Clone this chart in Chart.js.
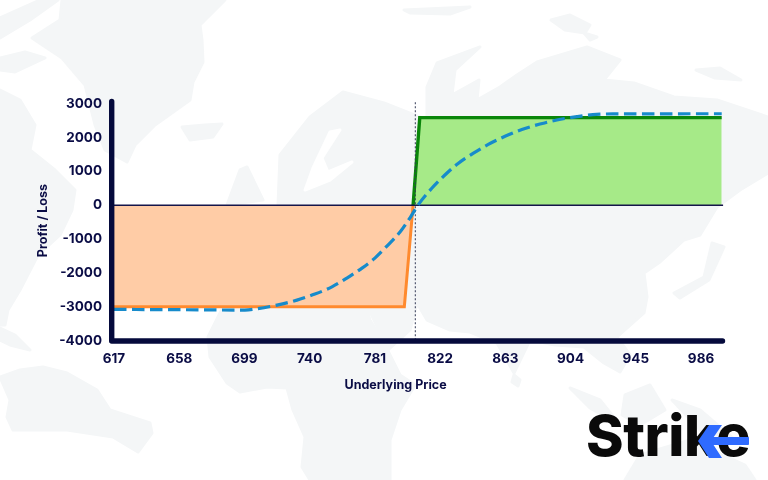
<!DOCTYPE html>
<html><head><meta charset="utf-8">
<style>
html,body{margin:0;padding:0;background:#fff;width:768px;height:480px;overflow:hidden}
#bg{position:absolute;left:0;top:0}
#wrap{position:absolute;left:0;top:0;width:768px;height:480px}
#logo{position:absolute;left:586px;top:401px;font:800 57px/70px Inter,sans-serif;letter-spacing:-0.4px;color:#0a0a0a}
#arrow{position:absolute;left:0;top:0}
</style>
<script src="https://cdn.jsdelivr.net/npm/chart.js@4/dist/chart.umd.min.js"></script>
</head><body>
<svg id="bg" width="768" height="480" fill="#f4f6f7" stroke="#f4f6f7" stroke-width="3" stroke-linejoin="round">
<polygon points="62,0 225,0 200,25 202,40 203,62 193,82 190,100 155,125 135,145 127,162 105,150 95,125 85,85 62,58 32,38 60,20"/>
<polygon points="0,18 40,0 58,0 30,20 0,38"/>
<polygon points="0,58 25,52 45,58 15,72 0,70"/>
<polygon points="0,90 20,100 35,125 30,150 55,170 75,190 72,210 60,235 38,255 20,290 8,310 5,325 0,325"/>
<polygon points="0,328 15,335 30,350 10,345 0,340"/>
<polygon points="20,370 43,367 67,373 97,390 110,410 150,423 152,433 138,452 113,437 67,430 13,430 7,417 10,400 0,377"/>
<polygon points="182,127 205,125 222,124 213,137 190,140"/>
<polygon points="227,205 240,170 247,167 263,200"/>
<polygon points="278,205 280,155 310,117 343,92 384,103 427,120 427,87 437,63 480,47 455,70 452,95 479,80 477,100 500,87 517,75 537,62 587,47 620,60 604,80 634,83 674,97 717,100 768,117 768,173 740,190 717,207 700,235 684,240 660,262 644,273 647,297 644,313 617,337 630,355 620,372 604,363 584,347 555,345 530,340 514,373 497,343 470,332 450,330 427,320 417,303 410,330 388,350 360,290 290,250"/>
<polygon points="220,313 208,337 210,357 227,383 240,392 267,387 287,388 293,410 305,437 302,467 310,480 390,480 390,440 400,410 415,385 400,375 385,345 370,320 350,250 250,260"/>
<polygon points="674,293 704,277 712,243 724,247 709,280 680,298"/>
<polygon points="514,375 520,380 518,386 512,382"/>
<polygon points="570,388 600,400 620,425 590,408"/>
<polygon points="625,395 650,385 665,410 640,425 622,415"/>
<polygon points="672,400 700,410 735,440 700,430"/>
<polygon points="625,480 640,455 690,440 745,465 755,480"/>
<polygon points="551,20 570,15 590,25 585,33 565,30"/>
<polygon points="584,33 597,37 590,40"/>
<polygon points="404,10 470,7 450,14 410,13"/>
<polygon points="696,70 720,68 741,80 715,78"/>
<polygon points="330,132 340,130 322,158 328,172 352,162 330,180 305,190 313,168" fill="#fff" stroke="#fff"/>
</svg>
<div id="wrap"><canvas id="c" width="768" height="480"></canvas></div>
<div id="logo">Strike</div>
<svg id="arrow" width="768" height="480" fill="#2f6bff">
<polygon points="709,425 722,425 711,441 722,458 709,458 698,441"/>
<rect x="708" y="437" width="41" height="8" rx="1"/>
</svg>
<script>
const xTicks=[617,658,699,740,781,822,863,904,945,986];
const yTicks=[-4000,-3000,-2000,-1000,0,1000,2000,3000];
const lossX=[617,799.5,805];
const lossY=[-2990,-2990,0];
const gainX=[805,809.2,999];
const gainY=[0,2585,2585];
const curveX=[617,658.5,699.3,706.9,719.5,732,743.3,754,763.4,772.9,781,789.2,796.8,803,808,816.9,825,833.3,842.7,852,862.8,873.4,884.8,895.4,908,918,930.6,999];
const curveY=[-3068,-3077,-3088,-3050,-2941,-2794,-2617,-2403,-2144,-1850,-1555,-1171,-788,-374,0,510,894,1235,1530,1790,2035,2235,2398,2516,2616,2675,2696,2700];
const zeroX=[617,1000];
const zeroY=[0,0];
const strikeX=[806.4,806.4];
const strikeY=[3040,-4000];
const xTitleText='Underlying Price';
const NAVY='#0a0c45';
const pts=(a,b)=>a.map((v,i)=>({x:v,y:b[i]}));
const spines={id:'spines',afterDatasetsDraw(ch){
  const c=ch.ctx,a=ch.chartArea,sx=a.left-2.3;
  c.save();c.strokeStyle='#050a3c';c.lineWidth=5.4;c.lineCap='round';c.lineJoin='round';
  c.beginPath();c.moveTo(sx,a.top+1.2);c.lineTo(sx,a.bottom);c.lineTo(a.right-0.8,a.bottom);c.stroke();
  c.fillStyle=NAVY;c.font='700 12.5px Inter';c.textAlign='center';c.textBaseline='middle';
  c.fillText(xTitleText,ch.scales.x.getPixelForValue(794),a.bottom+44);
  c.restore();
}};
new Chart(document.getElementById('c'),{
  type:'line',
  data:{datasets:[
    {label:'Loss',data:pts(lossX,lossY),borderColor:'#ff8a2e',borderWidth:3,backgroundColor:'#ffcca6',fill:'origin',pointRadius:0,tension:0,order:4},
    {label:'Gain',data:pts(gainX,gainY),borderColor:'#0a860a',borderWidth:3.4,backgroundColor:'#a6ea88',fill:'origin',pointRadius:0,tension:0,order:3},
    {label:'Zero',data:pts(zeroX,zeroY),borderColor:'#15154a',borderWidth:1.5,fill:false,pointRadius:0,order:2},
    {label:'Strike',data:pts(strikeX,strikeY),borderColor:'#333a55',borderWidth:1,borderDash:[2,2],fill:false,pointRadius:0,order:1},
    {label:'Curve',data:pts(curveX,curveY),borderColor:'#178bcb',borderWidth:3.2,borderDash:[12.5,5.5],fill:false,pointRadius:0,cubicInterpolationMode:'monotone',order:0}
  ]},
  options:{
    responsive:false,animation:false,
    layout:{padding:{left:0,top:100.2,right:44.7,bottom:0}},
    plugins:{legend:{display:false},tooltip:{enabled:false}},
    scales:{
      x:{type:'linear',min:617,max:1000,
        afterBuildTicks:s=>{s.ticks=xTicks.map(v=>({value:v}))},
        afterFit:s=>{s.height=139},
        grid:{display:false,drawTicks:false},border:{display:false},
        ticks:{autoSkip:false,maxRotation:0,padding:10,color:NAVY,font:{family:'Inter',size:13.5,weight:'700'},callback:v=>String(v)}
      },
      y:{type:'linear',min:-4000,max:3100,
        afterBuildTicks:s=>{s.ticks=yTicks.map(v=>({value:v}))},
        afterFit:s=>{s.width=114},
        grid:{display:false,drawTicks:false},border:{display:false},
        ticks:{autoSkip:false,padding:12,color:NAVY,font:{family:'Inter',size:13.5,weight:'700'},callback:v=>String(v)},
        title:{display:true,text:'Profit / Loss',color:NAVY,font:{family:'Inter',size:12.5,weight:'700'},padding:{top:36,bottom:0}}
      }
    }
  },
  plugins:[spines]
});
</script>
</body></html>
